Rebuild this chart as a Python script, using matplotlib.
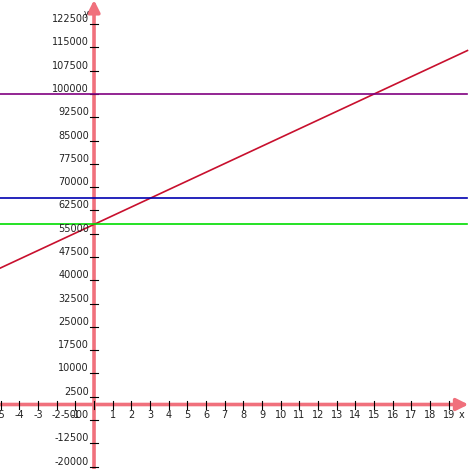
#Plot of the cost lines against the number of units, drawn like a graphing calculator screen.


import matplotlib.pyplot as plt
import numpy as np

# data
x_ticks = list(range(-5, 20))
y_ticks = list(range(-20000, 125000, 7500))
red_intercept = 58000
red_slope = 2800
blue_level = 66400
green_level = 58000
purple_level = 100000
x_end = 20

x_min, x_max = -5.035, 20.35
y_min, y_max = -20770, 130270

axis_color = "#f0707c"

fig = plt.figure(figsize=(4.74, 4.69), dpi=100)
ax = fig.add_axes([0, 0, 1, 1])
ax.set_xlim(x_min, x_max)
ax.set_ylim(y_min, y_max)
ax.axis("off")

# pixel size of one unit, to place ticks and labels
px_x = (x_max - x_min) / 474.0
px_y = (y_max - y_min) / 469.0

# axes through the origin with arrow heads
ax.annotate("", xy=(x_end + 0.05, 0), xytext=(x_min, 0),
            arrowprops=dict(arrowstyle="-|>,head_length=0.7,head_width=0.35",
                            color=axis_color, lw=2.6, shrinkA=0, shrinkB=0), zorder=1)
ax.annotate("", xy=(0, y_max), xytext=(0, y_min),
            arrowprops=dict(arrowstyle="-|>,head_length=0.7,head_width=0.35",
                            color=axis_color, lw=2.6, shrinkA=0, shrinkB=0), zorder=1)

# data lines
xs = np.array([x_min, x_end])
ax.plot(xs, red_intercept + red_slope * xs, color="#c8102e", lw=1.2, zorder=3)
ax.plot(xs, [blue_level, blue_level], color="#0000b0", lw=1.2, zorder=3)
ax.plot(xs, [green_level, green_level], color="#00dd00", lw=1.2, zorder=3)
ax.plot(xs, [purple_level, purple_level], color="#800080", lw=1.2, zorder=3)

# tick marks and labels
for t in x_ticks:
        ax.plot([t, t], [-4 * px_y, 4 * px_y], color="black", lw=0.8, zorder=2)
        if t != 0:
                ax.text(t, -10 * px_y, str(t), ha="center", va="center",
                        fontsize=7, color="#222222", zorder=4)
for t in y_ticks:
        if t == 0:
                continue
        ax.plot([-4 * px_x, 4 * px_x], [t, t], color="black", lw=0.8, zorder=2)
        ax.text(-5 * px_x, t + 5 * px_y, str(t), ha="right", va="center",
                fontsize=7, color="#222222", zorder=4)

ax.text(x_end - 0.3, -10 * px_y, "x", ha="center", va="center", fontsize=7, color="#222222")
ax.text(-8 * px_x, y_max - 14 * px_y, "y", ha="center", va="center", fontsize=6, color="#222222")

plt.savefig("out.png", dpi=100)
